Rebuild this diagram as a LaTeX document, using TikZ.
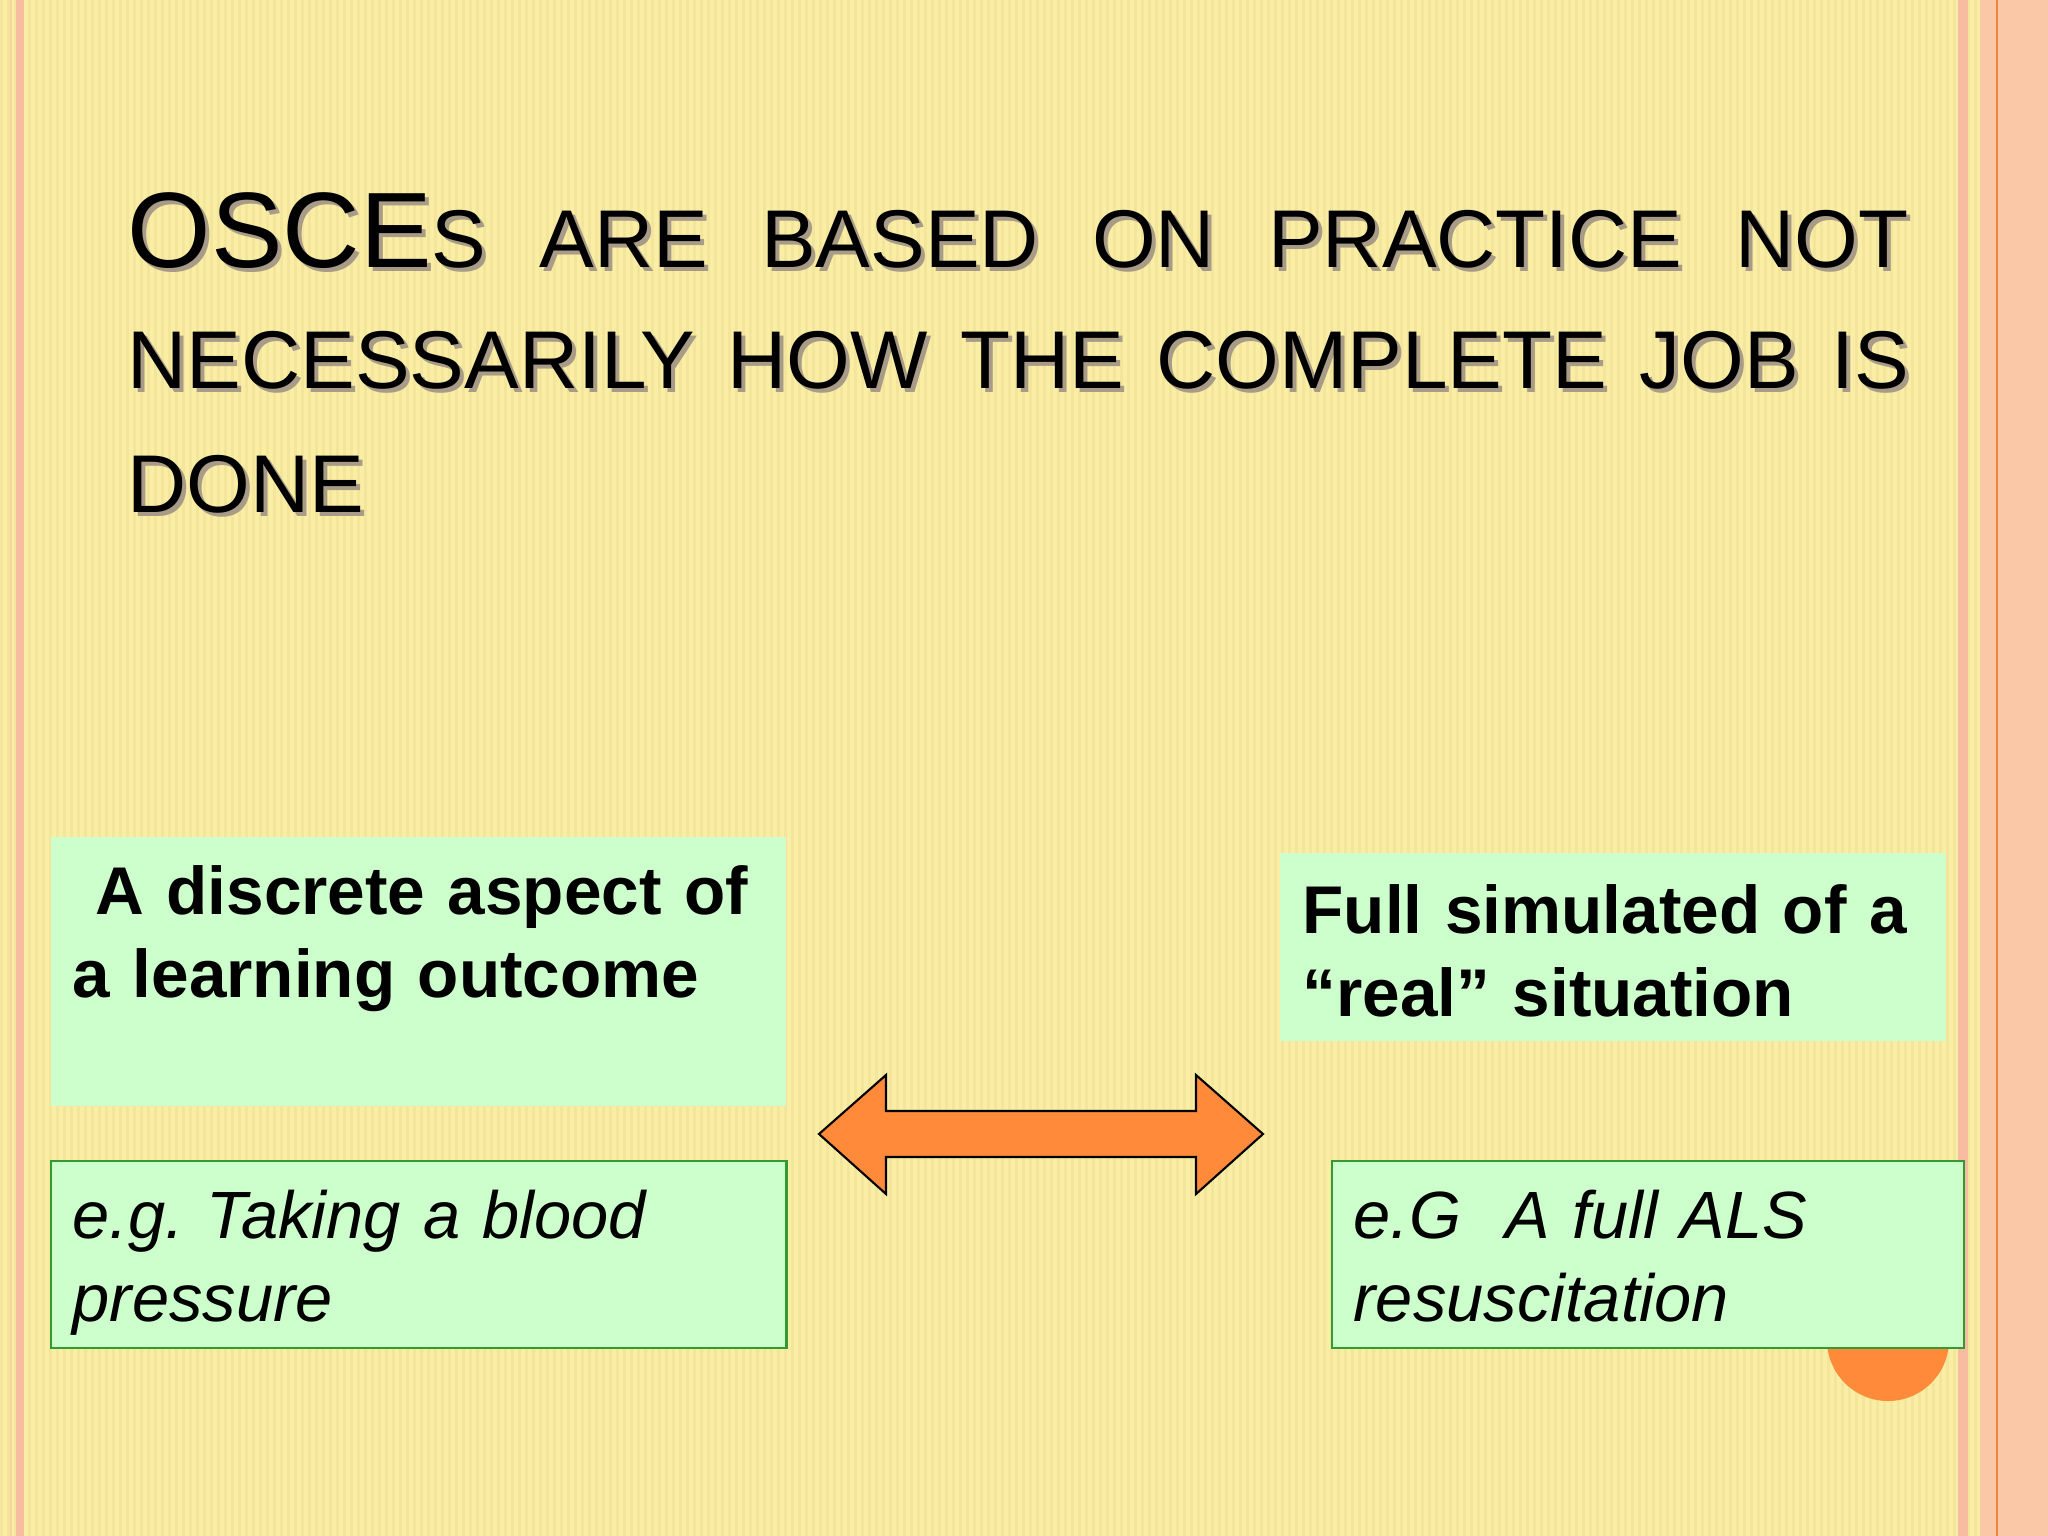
\documentclass[tikz,border=0pt]{standalone}
\usepackage{fontspec}
\setmainfont{Liberation Sans}
\usepackage{tikz}
\usetikzlibrary{positioning, calc}
\usepackage{xcolor}
\definecolor{slidebg}{HTML}{FAEEA4}
\definecolor{slidestripe}{HTML}{F4E59C}
\definecolor{peach}{HTML}{FAC8A6}
\definecolor{pinkband}{HTML}{F8BDA0}
\definecolor{orangeline}{HTML}{F2843F}
\definecolor{arroworange}{HTML}{FF8A3A}
\definecolor{mint}{HTML}{CCFFCC}
\definecolor{boxgreen}{HTML}{339933}
\definecolor{shadowgray}{HTML}{A89C88}
\frenchspacing

\begin{document}
\begin{tikzpicture}[x=0.01cm, y=-0.01cm,
        titleline/.style={anchor=base west, inner sep=0pt, font=\fontsize{23.3}{28}\selectfont},
        mintbox/.style={fill=mint, inner sep=0pt, anchor=north west},
        framebox/.style={mintbox, draw=boxgreen, line width=0.6pt},
        boxtext/.style={anchor=base west, inner sep=0pt, align=left, text width=7.1cm, font=\fontsize{19.4}{23.6}\selectfont}
    ]
        \useasboundingbox (0,0) rectangle (2048,1536);

        % BACKGROUND
        \fill[slidebg] (0,0) rectangle (2048,1536);
        \foreach \x in {0,7,...,1975} \fill[slidestripe] (\x,0) rectangle ++(3,1536);
        \fill[pinkband!60!slidebg] (10,0) rectangle (12,1536);
        \fill[pinkband] (16,0) rectangle (24,1536);
        \fill[pinkband] (1958,0) rectangle (1968,1536);
        \fill[peach] (1980,0) rectangle (2048,1536);
        \fill[orangeline] (1996,0) rectangle (1998,1536);
        \fill[arroworange] (1888,1340) circle (61);

        % TITLE
        \foreach \dx/\col in {4/shadowgray, 0/black} {
            \node[titleline, text=\col] (head1\col) at (127+\dx,267+\dx)
                {\makebox[17.8cm][s]{{\fontsize{30.5}{30}\selectfont OSCE}S ARE BASED ON PRACTICE NOT}};
            \node[titleline, text=\col] (head2\col) at (127+\dx,388+\dx)
                {\makebox[17.8cm][s]{NECESSARILY HOW THE COMPLETE JOB IS}};
            \node[titleline, text=\col] (head3\col) at (127+\dx,512+\dx) {DONE};
        }

        % DISCRETE ASPECT
        \node[mintbox, minimum width=7.35cm, minimum height=2.69cm] (discrete) at (50,836) {};
        \node[boxtext, font=\fontsize{19.2}{23.6}\selectfont\bfseries] (discretetxt) at ($(discrete.north west)+(22,78)$)
            {~A discrete aspect of\\a learning outcome};
        \node[framebox, minimum width=7.35cm, minimum height=1.87cm] (bp) at (50,1160) {};
        \node[boxtext, font=\fontsize{19.0}{23.6}\selectfont\itshape] (bptxt) at ($(bp.north west)+(22,78)$)
            {e.g. Taking a blood\\pressure};

        % FULL SIMULATION
        \node[mintbox, minimum width=6.66cm, minimum height=1.88cm] (full) at (1279,852) {};
        \node[boxtext, font=\fontsize{19.2}{23.6}\selectfont\bfseries] (fulltxt) at ($(full.north west)+(23,81)$)
            {Full simulated of a\\``real'' situation};
        \node[framebox, minimum width=6.32cm, minimum height=1.87cm] (als) at (1331,1160) {};
        \node[boxtext, font=\fontsize{19.0}{23.6}\selectfont\itshape] (alstxt) at ($(als.north west)+(22,78)$)
            {e.G~ A full ALS\\resuscitation};

        % DOUBLE ARROW
        \coordinate (arrL) at (819,1134);
        \coordinate (arrR) at (1263,1134);
        \draw[fill=arroworange, line width=0.6pt, line join=miter]
            (arrL) -- ($(arrL)+(67,-59)$) -- ($(arrL)+(67,-23)$) -- ($(arrR)+(-67,-23)$)
            -- ($(arrR)+(-67,-59)$) -- (arrR) -- ($(arrR)+(-67,60)$) -- ($(arrR)+(-67,23)$)
            -- ($(arrL)+(67,23)$) -- ($(arrL)+(67,60)$) -- cycle;
    \end{tikzpicture}
\end{document}
